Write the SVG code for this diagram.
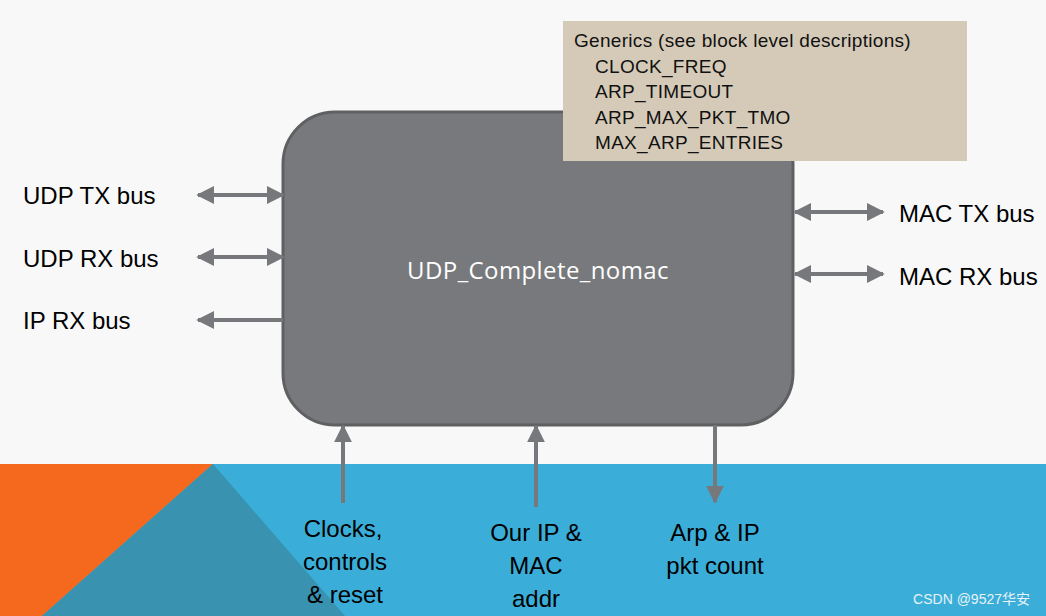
<svg xmlns="http://www.w3.org/2000/svg" width="1046" height="616" viewBox="0 0 1046 616">
<style>
.l{font-family:"Liberation Sans",Arial,sans-serif;font-size:24px;fill:#000}
.g{font-family:"Liberation Sans",Arial,sans-serif;font-size:19px;fill:#111;letter-spacing:0.3px}
.c{stroke:#77787b;stroke-width:4;fill:none}
</style>
<defs>
<marker id="a" viewBox="0 0 10 10" refX="9" refY="5" markerWidth="4.5" markerHeight="4.5" orient="auto-start-reverse" markerUnits="strokeWidth"><path d="M0,0L10,5L0,10z" fill="#77787b"/></marker>
</defs>
<rect width="1046" height="616" fill="#f8f8f8"/>
<rect y="464" width="1046" height="152" fill="#3aaed9"/>
<polygon points="0,464 213,464 42,616 0,616" fill="#f4691e"/>
<polygon points="213,464 42,616 345,616" fill="#3892b0"/>
<g id="main"><rect x="283" y="112" width="510" height="313" rx="52" fill="#78797c" stroke="#5f6062" stroke-width="3"/>
<text x="538" y="279" text-anchor="middle" font-family="'Open Sans',sans-serif" font-size="24" fill="#fff" letter-spacing="0.4">UDP_Complete_nomac</text></g>
<g id="generics"><rect x="563" y="21" width="404" height="140" fill="#d5cab8"/>
<text class="g" x="574" y="47">Generics (see block level descriptions)</text>
<text class="g" x="595" y="73">CLOCK_FREQ</text>
<text class="g" x="595" y="98">ARP_TIMEOUT</text>
<text class="g" x="595" y="124">ARP_MAX_PKT_TMO</text>
<text class="g" x="595" y="149">MAX_ARP_ENTRIES</text></g>
<g id="labels">
<text class="l" x="23" y="204">UDP TX bus</text>
<text class="l" x="23" y="267">UDP RX bus</text>
<text class="l" x="23" y="329">IP RX bus</text>
<text class="l" x="899" y="222">MAC TX bus</text>
<text class="l" x="899" y="285">MAC RX bus</text>
<text class="l" x="343" y="537" text-anchor="middle">Clocks,</text>
<text class="l" x="345" y="570" text-anchor="middle">controls</text>
<text class="l" x="345" y="603" text-anchor="middle">&amp; reset</text>
<text class="l" x="536" y="541" text-anchor="middle">Our IP &amp;</text>
<text class="l" x="536" y="574" text-anchor="middle">MAC</text>
<text class="l" x="536" y="607" text-anchor="middle">addr</text>
<text class="l" x="715" y="541" text-anchor="middle">Arp &amp; IP</text>
<text class="l" x="715" y="574" text-anchor="middle">pkt count</text>
</g>
<g id="connectors">
<line class="c" x1="198" y1="195" x2="283" y2="195" marker-start="url(#a)" marker-end="url(#a)"/>
<line class="c" x1="198" y1="257" x2="283" y2="257" marker-start="url(#a)" marker-end="url(#a)"/>
<line class="c" x1="283" y1="320" x2="198" y2="320" marker-end="url(#a)"/>
<line class="c" x1="795" y1="212" x2="883" y2="212" marker-start="url(#a)" marker-end="url(#a)"/>
<line class="c" x1="795" y1="274" x2="883" y2="274" marker-start="url(#a)" marker-end="url(#a)"/>
<line class="c" x1="343" y1="503" x2="343" y2="426" marker-end="url(#a)"/>
<line class="c" x1="536" y1="507" x2="536" y2="426" marker-end="url(#a)"/>
<line class="c" x1="715" y1="425" x2="715" y2="502" marker-end="url(#a)"/>
</g>
<text x="1030" y="604" text-anchor="end" font-family="'Liberation Sans','Noto Sans CJK SC',sans-serif" font-size="14" fill="#e8f2f8">CSDN @9527华安</text>
</svg>
